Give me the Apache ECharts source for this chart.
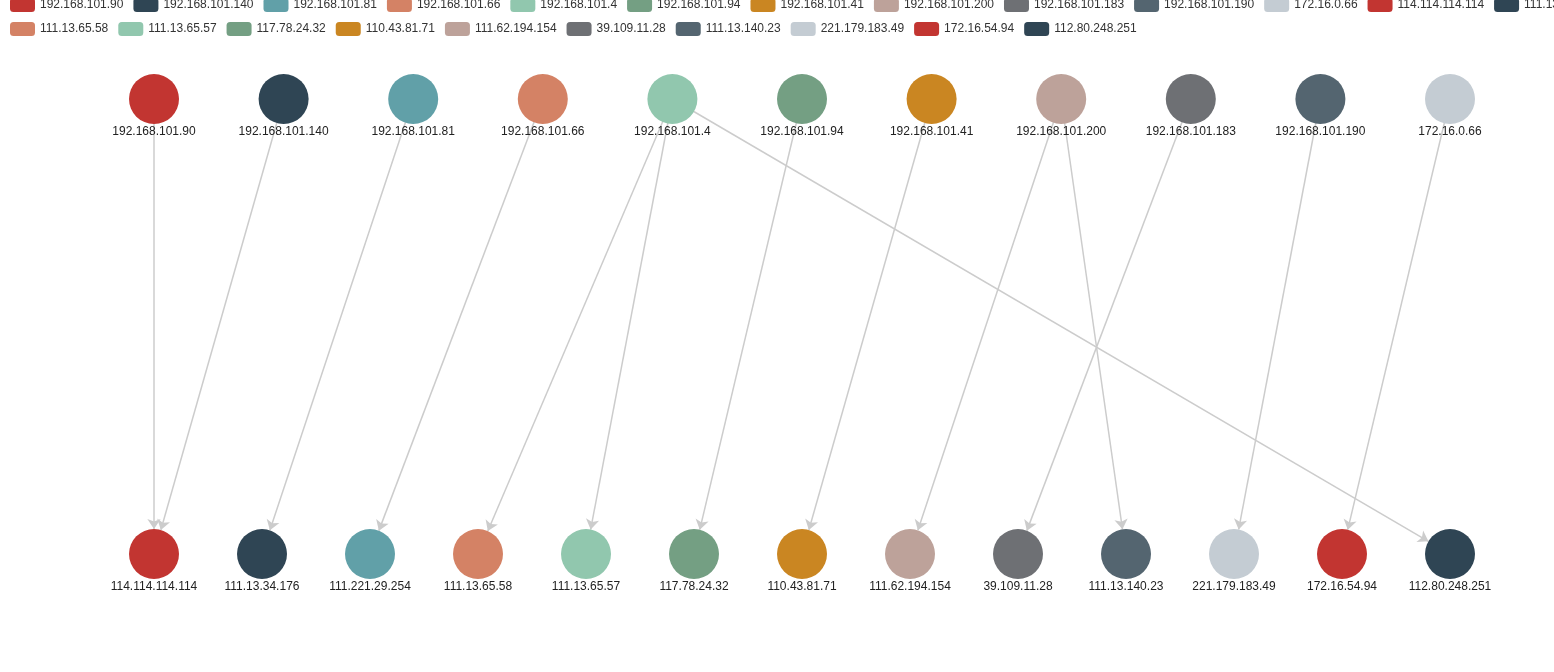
<!DOCTYPE html>
<html><head><meta charset="utf-8">
<script src="https://cdn.jsdelivr.net/npm/echarts@6/dist/echarts.min.js"></script>
<style>html,body{margin:0;padding:0;background:#fff}#c{width:1554px;height:672px}</style>
</head><body><div id="c"></div>
<script>
const sources = ['192.168.101.90','192.168.101.140','192.168.101.81','192.168.101.66','192.168.101.4','192.168.101.94','192.168.101.41','192.168.101.200','192.168.101.183','192.168.101.190','172.16.0.66'];
const targets = ['114.114.114.114','111.13.34.176','111.221.29.254','111.13.65.58','111.13.65.57','117.78.24.32','110.43.81.71','111.62.194.154','39.109.11.28','111.13.140.23','221.179.183.49','172.16.54.94','112.80.248.251'];
const links = [
 ['192.168.101.90','114.114.114.114'],['192.168.101.140','114.114.114.114'],
 ['192.168.101.81','111.13.34.176'],['192.168.101.66','111.221.29.254'],
 ['192.168.101.4','111.13.65.58'],['192.168.101.4','111.13.65.57'],['192.168.101.4','112.80.248.251'],
 ['192.168.101.94','117.78.24.32'],['192.168.101.41','110.43.81.71'],
 ['192.168.101.200','111.62.194.154'],['192.168.101.200','111.13.140.23'],
 ['192.168.101.183','39.109.11.28'],['192.168.101.190','221.179.183.49'],
 ['172.16.0.66','172.16.54.94']
];
const colors=['#c23531','#2f4554','#61a0a8','#d48265','#91c7ae','#749f83','#ca8622','#bda29a','#6e7074','#546570','#c4ccd3'];
const names = sources.concat(targets);
const topGap = (targets.length-1)/(sources.length-1);
const nodes = names.map((n,i)=>{
  const isTop = i < sources.length;
  const idx = isTop ? i : i - sources.length;
  return {name:n, category:i, x: isTop ? idx*topGap*108 : idx*108, y: isTop ? 0 : 455};
});
const chart = echarts.init(document.getElementById('c'));
chart.setOption({
  color: colors,
  legend: {data: names, left: 5, top: -7, width: 1800, itemGap: 10, itemWidth: 25, itemHeight: 14, textStyle:{fontSize:12,color:'#333'}},
  series: [{
    type:'graph', layout:'none',
    left:154, right:104, top:99, bottom:118,
    symbolSize:50,
    categories: names.map(n=>({name:n})),
    data: nodes,
    links: links.map(l=>({source:l[0],target:l[1]})),
    edgeSymbol:['none','arrow'], edgeSymbolSize:[4,10],
    label:{show:true, position:'bottom', distance:2, color:'#222', fontSize:12},
    lineStyle:{color:'#ccc', width:1.5, opacity:1, curveness:0}
  }]
});
</script></body></html>
